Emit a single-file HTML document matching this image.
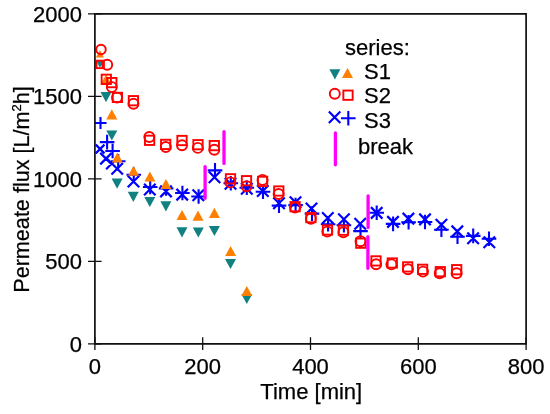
<!DOCTYPE html>
<html><head><meta charset="utf-8"><title>Permeate flux</title>
<style>
html,body{margin:0;padding:0;background:#fff;}
svg{display:block;}
text{font-family:"Liberation Sans",Arial,Helvetica,sans-serif;fill:#000;stroke:#000;stroke-width:0.25px;}
</style></head><body>
<svg width="550" height="414" viewBox="0 0 550 414">
<rect width="550" height="414" fill="#fff"/>
<g clip-path="url(#pc)">
<path fill="none" stroke="#0000FF" stroke-width="2.2" d="M95.73 144.63L104.47 153.37M95.73 153.37L104.47 144.63M100.25 152.85L111.75 164.35M100.25 164.35L111.75 152.85M106.15 157.75L117.65 169.25M106.15 169.25L117.65 157.75M111.45 162.95L122.95 174.45M111.45 174.45L122.95 162.95M127.75 175.75L139.25 187.25M127.75 187.25L139.25 175.75M144.05 183.75L155.55 195.25M144.05 195.25L155.55 183.75M160.25 185.65L171.75 197.15M160.25 197.15L171.75 185.65M176.45 188.85L187.95 200.35M176.45 200.35L187.95 188.85M192.55 189.55L204.05 201.05M192.55 201.05L204.05 189.55M208.75 171.55L220.25 183.05M208.75 183.05L220.25 171.55M224.75 178.05L236.25 189.55M224.75 189.55L236.25 178.05M241.05 183.05L252.55 194.55M241.05 194.55L252.55 183.05M257.05 185.25L268.55 196.75M257.05 196.75L268.55 185.25M273.25 197.45L284.75 208.95M273.25 208.95L284.75 197.45M289.75 196.45L301.25 207.95M289.75 207.95L301.25 196.45M305.75 202.75L317.25 214.25M305.75 214.25L317.25 202.75M322.05 212.25L333.55 223.75M322.05 223.75L333.55 212.25M338.15 213.55L349.65 225.05M338.15 225.05L349.65 213.55M354.45 217.95L365.95 229.45M354.45 229.45L365.95 217.95M370.95 207.15L382.45 218.65M370.95 218.65L382.45 207.15M387.25 216.15L398.75 227.65M387.25 227.65L398.75 216.15M402.65 212.85L414.15 224.35M402.65 224.35L414.15 212.85M419.25 213.65L430.75 225.15M419.25 225.15L430.75 213.65M435.65 219.05L447.15 230.55M435.65 230.55L447.15 219.05M451.55 225.65L463.05 237.15M451.55 237.15L463.05 225.65M467.35 232.55L478.85 244.05M467.35 244.05L478.85 232.55M483.55 236.45L495.05 247.95M483.55 247.95L495.05 236.45"/>
<path fill="none" stroke="#0000FF" stroke-width="2.1" d="M94.44 123H106.56M100.5 116.94V129.06M99.8 142.1H114.4M107.1 134.8V149.4M105.3 151H119.9M112.6 143.7V158.3M110.9 161.3H125.5M118.2 154V168.6M126.5 174.7H141.1M133.8 167.4V182M142.9 187H157.5M150.2 179.7V194.3M158.8 188.4H173.4M166.1 181.1V195.7M175.1 193H189.7M182.4 185.7V200.3M191.3 196.5H205.9M198.6 189.2V203.8M207.7 170.4H222.3M215 163.1V177.7M223.5 183.2H238.1M230.8 175.9V190.5M239.5 187.8H254.1M246.8 180.5V195.1M255.7 191.8H270.3M263 184.5V199.1M271.7 205.6H286.3M279 198.3V212.9M288.3 205.1H302.9M295.6 197.8V212.4M304.7 213.6H319.3M312 206.3V220.9M320.8 224.2H335.4M328.1 216.9V231.5M336.6 225.3H351.2M343.9 218V232.6M353.2 231.1H367.8M360.5 223.8V238.4M369.4 212.8H384M376.7 205.5V220.1M385.8 223.9H400.4M393.1 216.6V231.2M401.3 222.3H415.9M408.6 215V229.6M417.7 222H432.3M425 214.7V229.3M434.1 229.8H448.7M441.4 222.5V237.1M450.2 236.8H464.8M457.5 229.5V244.1M465.9 235.9H480.5M473.2 228.6V243.2M481.7 238.8H496.3M489 231.5V246.1"/>
<g fill="#108080"><polygon points="95.94,60.6 103.86,60.6 99.9,67.87"/><polygon points="100.5,92.1 111.5,92.1 106,102.2"/><polygon points="106.3,130.4 117.3,130.4 111.8,140.5"/><polygon points="111.6,178.6 122.6,178.6 117.1,188.7"/><polygon points="127.8,191.8 138.8,191.8 133.3,201.9"/><polygon points="144.3,196.9 155.3,196.9 149.8,207"/><polygon points="160.4,201.3 171.4,201.3 165.9,211.4"/><polygon points="176.5,227.3 187.5,227.3 182,237.4"/><polygon points="192.8,227.5 203.8,227.5 198.3,237.6"/><polygon points="208.9,225.9 219.9,225.9 214.4,236"/><polygon points="225,258.9 236,258.9 230.5,269"/><polygon points="241.3,294 252.3,294 246.8,304.1"/></g>
<g fill="#FF8000"><polygon points="99.9,50.1 103.97,57.57 95.83,57.57"/><polygon points="106,74.6 111.5,84.7 100.5,84.7"/><polygon points="111.8,109.3 117.3,119.4 106.3,119.4"/><polygon points="117.3,152.5 122.8,162.6 111.8,162.6"/><polygon points="133.5,165.7 139,175.8 128,175.8"/><polygon points="149.9,171.4 155.4,181.5 144.4,181.5"/><polygon points="165.9,178.9 171.4,189 160.4,189"/><polygon points="182,210 187.5,220.1 176.5,220.1"/><polygon points="198,210.6 203.5,220.7 192.5,220.7"/><polygon points="214.4,207.8 219.9,217.9 208.9,217.9"/><polygon points="230.6,245.9 236.1,256 225.1,256"/><polygon points="246.8,285.9 252.3,296 241.3,296"/></g>
<g fill="none" stroke="#FF0000" stroke-width="1.9"><circle cx="101" cy="49.5" r="4.75"/><circle cx="107.2" cy="64.8" r="5"/><circle cx="111.8" cy="87.1" r="5"/><circle cx="117" cy="97.6" r="5"/><circle cx="133.5" cy="103.8" r="5"/><circle cx="149.3" cy="137" r="5"/><circle cx="165.8" cy="147" r="5"/><circle cx="182" cy="145.2" r="5"/><circle cx="197.8" cy="147.9" r="5"/><circle cx="214.3" cy="149.7" r="5"/><circle cx="230.3" cy="182.4" r="5"/><circle cx="246.6" cy="186.3" r="5"/><circle cx="262.5" cy="179.9" r="5"/><circle cx="278.6" cy="194" r="5"/><circle cx="295" cy="207.6" r="5"/><circle cx="310.9" cy="218.7" r="5"/><circle cx="327.3" cy="231.6" r="5"/><circle cx="343.4" cy="232.2" r="5"/><circle cx="360.5" cy="241.2" r="5"/><circle cx="376.1" cy="264.3" r="5"/><circle cx="391.4" cy="264.4" r="5"/><circle cx="408" cy="269.2" r="5"/><circle cx="423" cy="271.6" r="5"/><circle cx="439.7" cy="273.2" r="5"/><circle cx="456.6" cy="273.2" r="5"/></g>
<g fill="none" stroke="#FF0000" stroke-width="1.9"><rect x="96.48" y="60.68" width="7.44" height="7.44"/><rect x="101.65" y="74.65" width="9.3" height="9.3"/><rect x="107.15" y="77.95" width="9.3" height="9.3"/><rect x="112.75" y="92.75" width="9.3" height="9.3"/><rect x="128.75" y="96.05" width="9.3" height="9.3"/><rect x="144.95" y="135.65" width="9.3" height="9.3"/><rect x="161.05" y="139.75" width="9.3" height="9.3"/><rect x="177.35" y="135.85" width="9.3" height="9.3"/><rect x="193.35" y="140.05" width="9.3" height="9.3"/><rect x="209.65" y="140.95" width="9.3" height="9.3"/><rect x="225.85" y="174.15" width="9.3" height="9.3"/><rect x="241.85" y="176.05" width="9.3" height="9.3"/><rect x="257.95" y="176.75" width="9.3" height="9.3"/><rect x="274.15" y="186.35" width="9.3" height="9.3"/><rect x="290.45" y="202.05" width="9.3" height="9.3"/><rect x="306.25" y="212.95" width="9.3" height="9.3"/><rect x="322.85" y="225.35" width="9.3" height="9.3"/><rect x="338.75" y="225.55" width="9.3" height="9.3"/><rect x="356.15" y="238.55" width="9.3" height="9.3"/><rect x="371.35" y="256.25" width="9.3" height="9.3"/><rect x="387.65" y="258.35" width="9.3" height="9.3"/><rect x="403.05" y="262.25" width="9.3" height="9.3"/><rect x="417.95" y="264.65" width="9.3" height="9.3"/><rect x="435.65" y="267.05" width="9.3" height="9.3"/><rect x="452.05" y="265.05" width="9.3" height="9.3"/></g>
<path fill="none" stroke="#FF00FF" stroke-width="3.3" stroke-linecap="round" d="M205.1 166.6V198.3M224 131.6V163.4M368.1 196V227.5M367.9 236.7V268.3"/>
</g>
<defs><clipPath id="pc"><rect x="94.9" y="13.9" width="431.2" height="329.9"/></clipPath></defs>
<g fill="none" stroke="#111" stroke-width="1.7">
<path d="M94.9 13.9H526.1V343.8H94.9Z"/>
<path stroke-width="1.3" d="M88 343.8H101.6M88 261.32H101.6M88 178.85H101.6M88 96.38H101.6M88 13.9H101.6M94.9 337.2V350M202.7 337.2V350M310.5 337.2V350M418.3 337.2V350M526.1 337.2V350"/>
</g>
<text x="82" y="351.8" font-size="22" text-anchor="end">0</text>
<text x="82" y="269.32" font-size="22" text-anchor="end">500</text>
<text x="82" y="186.85" font-size="22" text-anchor="end">1000</text>
<text x="82" y="104.38" font-size="22" text-anchor="end">1500</text>
<text x="82" y="21.9" font-size="22" text-anchor="end">2000</text>
<text x="94.9" y="373.8" font-size="22" text-anchor="middle">0</text>
<text x="202.7" y="373.8" font-size="22" text-anchor="middle">200</text>
<text x="310.5" y="373.8" font-size="22" text-anchor="middle">400</text>
<text x="418.3" y="373.8" font-size="22" text-anchor="middle">600</text>
<text x="526.1" y="373.8" font-size="22" text-anchor="middle">800</text>
<text x="311.3" y="399.3" font-size="22" text-anchor="middle">Time [min]</text>
<text transform="translate(28.9,189.5) rotate(-90)" font-size="21.6" text-anchor="middle">Permeate flux [L/m<tspan font-size="13" dy="-8">2</tspan><tspan dy="8">h]</tspan></text>
<text x="345" y="54.9" font-size="22">series:</text>
<text x="364" y="78.9" font-size="22">S1</text>
<text x="364" y="103.4" font-size="22">S2</text>
<text x="364" y="128.2" font-size="22">S3</text>
<text x="358" y="153.6" font-size="22">break</text>
<g fill="#108080"><polygon points="329.4,69.3 340.4,69.3 334.9,79.4"/></g>
<g fill="#FF8000"><polygon points="347.5,68 353,78.1 342,78.1"/></g>
<g fill="none" stroke="#FF0000" stroke-width="1.9"><circle cx="334.8" cy="93.7" r="5"/></g>
<g fill="none" stroke="#FF0000" stroke-width="1.9"><rect x="343.35" y="90.55" width="9.3" height="9.3"/></g>
<path fill="none" stroke="#0000FF" stroke-width="2.2" d="M328.85 111.55L340.35 123.05M328.85 123.05L340.35 111.55"/>
<path fill="none" stroke="#0000FF" stroke-width="2.1" d="M341 118.2H355.6M348.3 110.9V125.5"/>
<path fill="none" stroke="#FF00FF" stroke-width="3.3" stroke-linecap="round" d="M335.4 132.8V164.8"/>
</svg>
</body></html>
